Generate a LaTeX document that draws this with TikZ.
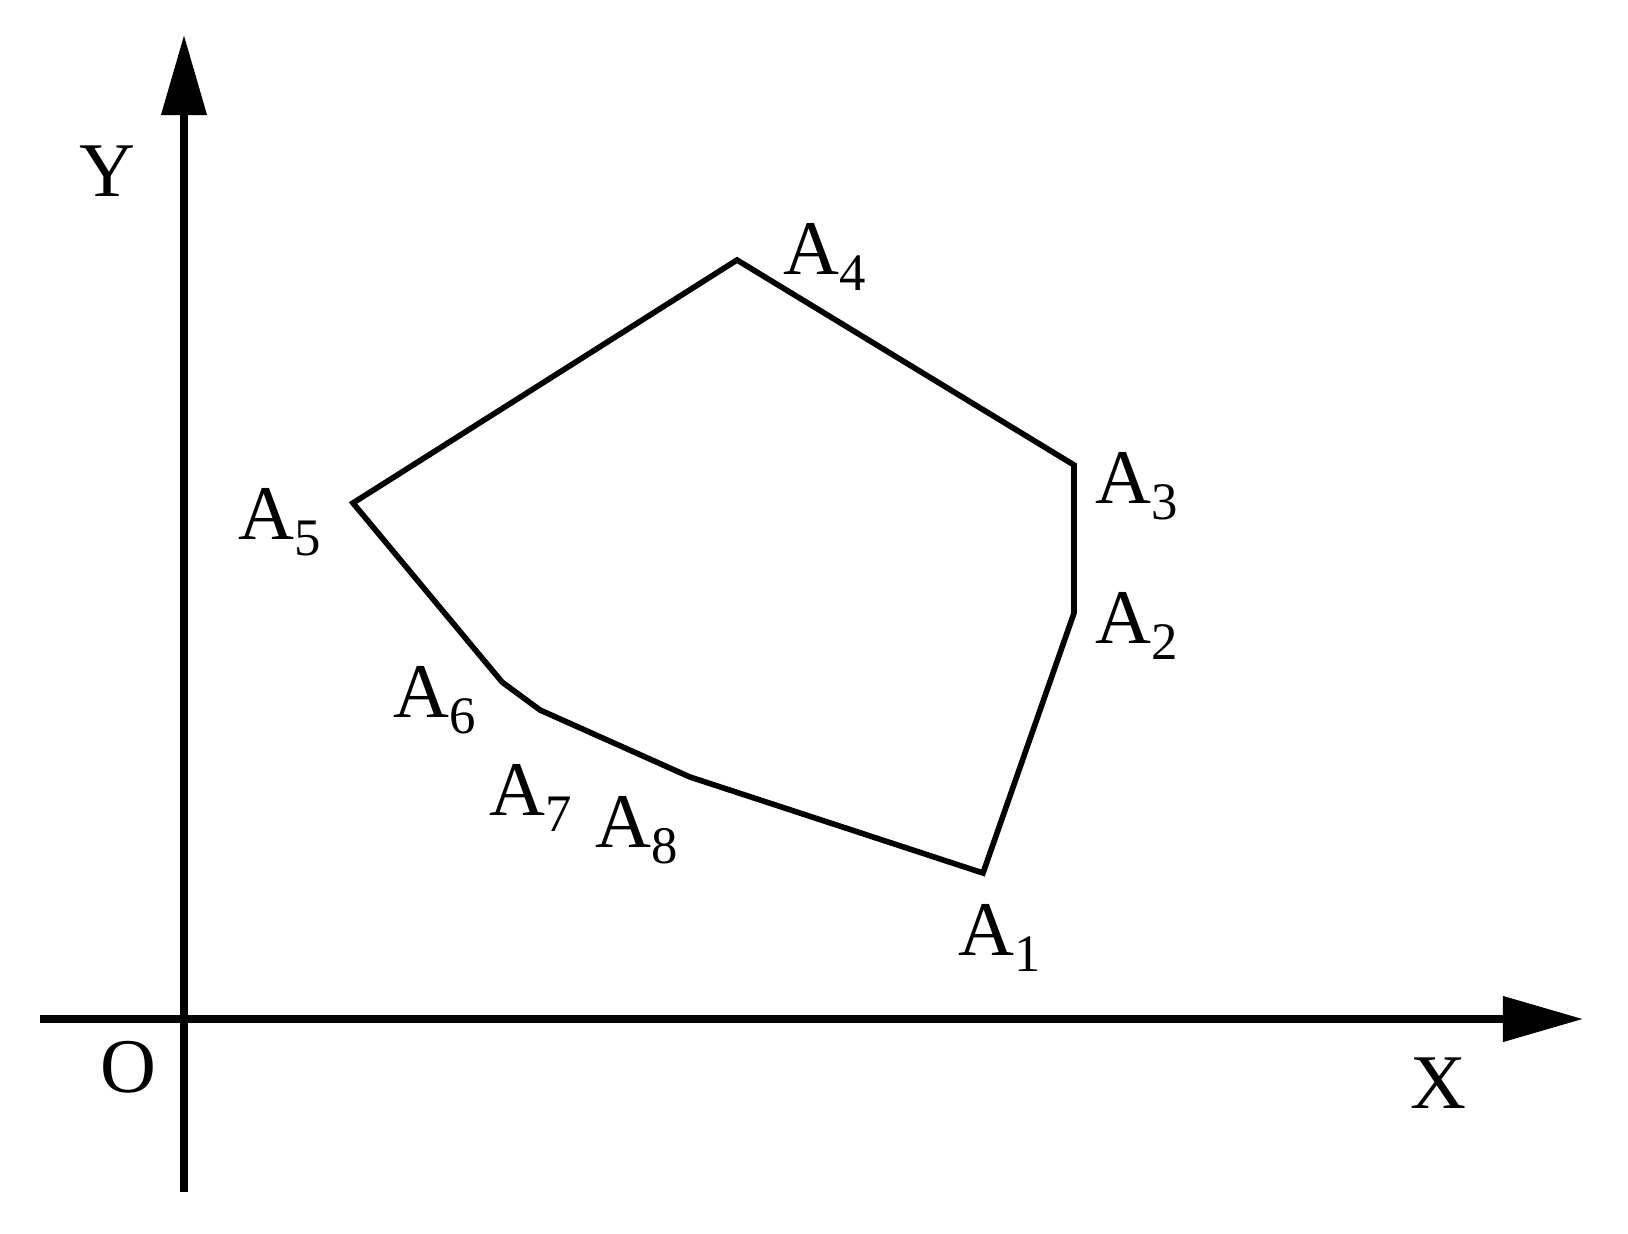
\documentclass[tikz,border=0pt]{standalone}
\usepackage{fontspec}
\setmainfont{Liberation Serif}
\usetikzlibrary{arrows.meta}

\newcommand{\vtx}[1]{A\raisebox{-4.5pt}{\fontsize{15}{18}\selectfont #1}}

\begin{document}
\begin{tikzpicture}[x=0.01cm,y=-0.01cm,
  axis/.style={line width=2.1pt,-{Triangle[length=8mm,width=4.4mm]}},
  lbl/.style={inner sep=0pt,font=\fontsize{22}{26}\selectfont}]
\useasboundingbox (0,0) rectangle (1628,1233);

% The axes
\coordinate (xs) at (40,1019);
\coordinate (xe) at (1583,1019);
\coordinate (ys) at (184,1192);
\coordinate (ye) at (184,35);
\draw [axis] (xs) -- (xe);
\draw [axis] (ys) -- (ye);
\node [lbl] (xlbl) at (1438,1083) {X};
\node [lbl] (ylbl) at (107,171) {Y};
\node [lbl] (olbl) at (128,1067) {O};

% The polygon
\coordinate (A1) at (983,873);
\coordinate (A2) at (1074,613);
\coordinate (A3) at (1074,465);
\coordinate (A4) at (737,260);
\coordinate (A5) at (353,503);
\coordinate (A6) at (502,682);
\coordinate (A7) at (540,710);
\coordinate (A8) at (690,777);
\draw [line width=1.6pt,line join=miter] (A1) -- (A2) -- (A3) -- (A4) -- (A5) -- (A6) -- (A7) -- (A8) -- cycle;

% Vertex labels
\node [lbl] (a1) at (1000,938) {\vtx{1}};
\node [lbl] (a2) at (1137,626) {\vtx{2}};
\node [lbl] (a3) at (1137,486) {\vtx{3}};
\node [lbl] (a4) at (825,257) {\vtx{4}};
\node [lbl] (a5) at (280,522) {\vtx{5}};
\node [lbl] (a6) at (435,700) {\vtx{6}};
\node [lbl] (a7) at (531,798) {\vtx{7}};
\node [lbl] (a8) at (637,830) {\vtx{8}};

\end{tikzpicture}
\end{document}
